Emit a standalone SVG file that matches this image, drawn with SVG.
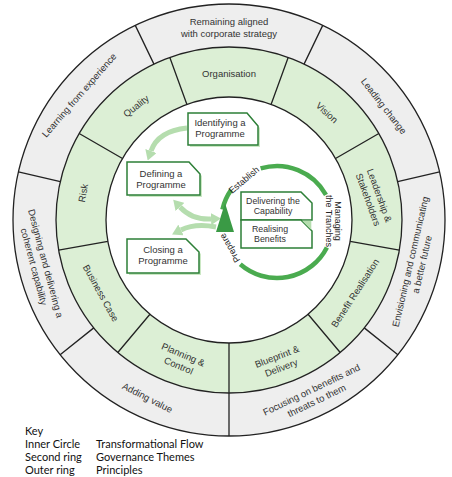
<svg xmlns="http://www.w3.org/2000/svg" width="452" height="477" viewBox="0 0 452 477">
<style>
text{font-family:"Liberation Sans",Arial,sans-serif;fill:#333;text-anchor:middle}
.r{font-size:9.5px}
.b{font-size:9.5px}
.s{font-size:8.8px}
.c{font-size:9px;fill:#222}
.k{font-family:Lato,"Liberation Sans",sans-serif;font-size:11px;fill:#111;text-anchor:start}
.div{stroke:#222;stroke-width:1.3;fill:none}
.box{fill:#fff;stroke:#2d7f37;stroke-width:1.5}
.sh{fill:#cbe8c4}
.arc{fill:none;stroke:#4aab4f;stroke-width:4.5}
.arr{fill:none;stroke:#b5ddae;stroke-width:5}
</style>
<defs>
<marker id="ah" viewBox="0 -6 10 12" refX="0" refY="0" markerWidth="10" markerHeight="12" markerUnits="userSpaceOnUse" orient="auto-start-reverse">
<path d="M0,-6 L10,0 L0,6 z" fill="#b5ddae"/>
</marker>
</defs>
<rect width="452" height="477" fill="#fff"/>
<g id="rings">
<circle cx="229" cy="220" r="216" fill="#eeeeee" stroke="#222" stroke-width="1.3"/>
<circle cx="229" cy="220" r="173" fill="#dcefd5" stroke="#222" stroke-width="1.3"/>
<circle cx="229" cy="220" r="123" fill="#fff" stroke="#222" stroke-width="1.3"/>
<path class="div" d="M153.94,64.13L135.28,25.38M304.06,64.13L322.72,25.38M397.66,181.51L439.58,171.94M364.25,327.87L397.87,354.68M229,393L229,436M93.75,327.87L60.13,354.68M60.34,181.51L18.42,171.94"/>
<path class="div" d="M271.07,104.42L288.17,57.43M335.52,158.5L378.82,133.5M350.13,241.36L399.37,250.04M308.06,314.22L340.2,352.52M229,343L229,393M149.94,314.22L117.8,352.52M107.87,241.36L58.63,250.04M122.48,158.5L79.18,133.5M186.93,104.42L169.83,57.43"/>
</g>
<g id="principles">
<text class="r" x="229" y="25">Remaining aligned</text>
<text class="r" x="229" y="37">with corporate strategy</text>
<text class="r" transform="translate(384,106) rotate(52)" y="3.5">Leading change</text>
<g transform="translate(416,263) rotate(-77)"><text class="r" y="-2.5">Envisioning and communicating</text><text class="r" y="9.5">a better future</text></g>
<g transform="translate(314,395) rotate(-25.7)"><text class="r" y="-2.5">Focusing on benefits and</text><text class="r" y="9.5">threats to them</text></g>
<text class="r" transform="translate(147.5,397.5) rotate(27)" y="3.5">Adding value</text>
<g transform="translate(40,265) rotate(75)"><text class="r" y="-2.5">Designing and delivering a</text><text class="r" y="9.5">coherent capability</text></g>
<text class="r" transform="translate(79,95) rotate(-49)" y="3.5">Learning from experience</text>
</g>
<g id="themes">
<text class="r" x="229" y="77">Organisation</text>
<text class="r" transform="translate(327,112.5) rotate(43)" y="3.5">Vision</text>
<g transform="translate(374,197.5) rotate(70)"><text class="r" y="-2.5">Leadership &amp;</text><text class="r" y="9.5">Stakeholders</text></g>
<text class="r" transform="translate(355,293) rotate(-57)" y="3.5">Benefit Realisation</text>
<g transform="translate(279,362) rotate(-21)"><text class="r" y="-2.5">Blueprint &amp;</text><text class="r" y="9.5">Delivery</text></g>
<g transform="translate(181,360) rotate(23)"><text class="r" y="-2.5">Planning &amp;</text><text class="r" y="9.5">Control</text></g>
<text class="r" transform="translate(101,293) rotate(61)" y="3.5">Business Case</text>
<text class="r" transform="translate(83,193) rotate(-80)" y="3.5">Risk</text>
<text class="r" transform="translate(136,106) rotate(-38)" y="3.5">Quality</text>
</g>
<g id="connectors">
<path class="arr" d="M187,128 Q158,131 151,151" marker-end="url(#ah)"/>
<path class="arr" d="M180,207 Q192,220 211,219" marker-start="url(#ah)" marker-end="url(#ah)"/>
<path class="arr" d="M216,227 Q195,223 181,230" marker-end="url(#ah)"/>
</g>
<g id="cycle">
<path class="arc" d="M222.43,209.4 A56,56 0 0 1 231.13,189.88"/>
<path class="arc" d="M260.63,168.45 A56,56 0 0 1 325.98,194.85"/>
<path class="arc" d="M326.9,247.42 A56,56 0 0 1 240.26,264.26"/>
<polygon points="225,203 234,232 216,232" fill="#3a9a45"/>
<text class="c" transform="translate(244,180) rotate(-40)" y="3">Establish</text>
<text class="c" transform="translate(230,248) rotate(-120)" y="3">Prepare</text>
<g transform="translate(330,221) rotate(90)"><text class="c" y="-4.5">Managing</text><text class="c" y="4">the Tranches</text></g>
</g>
<g id="identifying">
<path class="sh" d="M190,115 H249 L260,128 V147 H190 Z"/>
<path class="box" d="M188,113 H247 L258,126 V145 H188 Z"/>
<text class="b" x="220" y="126">Identifying a</text>
<text class="b" x="220" y="137">Programme</text>
</g>
<g id="defining">
<path class="sh" d="M129,164 H191 L202,176 V197 H129 Z"/>
<path class="box" d="M127,162 H189 L200,174 V195 H127 Z"/>
<text class="b" x="161" y="177">Defining a</text>
<text class="b" x="161" y="187.5">Programme</text>
</g>
<g id="closing">
<path class="sh" d="M129,241 H188 L201,254 V275 H129 Z"/>
<path class="box" d="M127,239 H186 L199,252 V273 H127 Z"/>
<text class="b" x="163" y="253">Closing a</text>
<text class="b" x="163" y="263.5">Programme</text>
</g>
<g id="delivering">
<path class="box" d="M241,192 H301 L312,203 V220 H241 Z"/>
<text class="s" x="273" y="203.5">Delivering the</text>
<text class="s" x="273" y="214">Capability</text>
</g>
<g id="realising">
<path class="box" d="M241,220 H301 L312,231 V248 H241 Z"/>
<polygon points="302,220.8 311.3,220.8 311.3,230" fill="#b5ddae"/>
<text class="s" x="270" y="231.5">Realising</text>
<text class="s" x="270" y="242">Benefits</text>
</g>
<g id="key">
<text class="k" x="25" y="435">Key</text>
<text class="k" x="25" y="448">Inner Circle</text>
<text class="k" x="25" y="461">Second ring</text>
<text class="k" x="25" y="474">Outer ring</text>
<text class="k" x="96" y="448">Transformational Flow</text>
<text class="k" x="96" y="461">Governance Themes</text>
<text class="k" x="96" y="474">Principles</text>
</g>
</svg>
